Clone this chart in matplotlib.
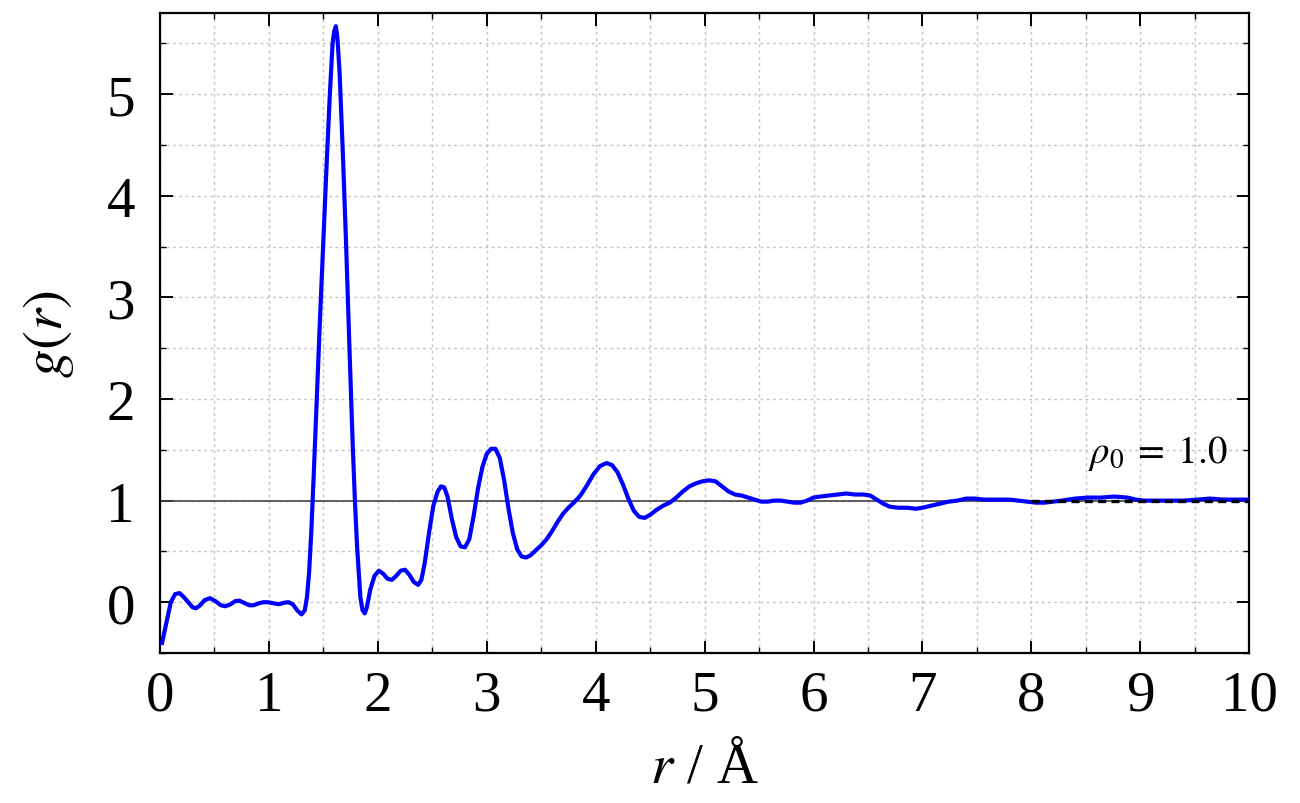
import numpy as np
from matplotlib import pyplot as plt
from matplotlib.ticker import MultipleLocator

# radial distribution function
r = [0.02, 0.06, 0.10, 0.14, 0.18, 0.22, 0.26, 0.30, 0.33, 0.37,
     0.41, 0.46, 0.51, 0.56, 0.60, 0.65, 0.69, 0.73, 0.78, 0.82,
     0.86, 0.91, 0.95, 0.99, 1.04, 1.09, 1.14, 1.18, 1.22, 1.26,
     1.30, 1.33, 1.35, 1.37, 1.39, 1.41, 1.44, 1.47, 1.50, 1.53,
     1.56, 1.585, 1.60, 1.615, 1.63, 1.65, 1.68, 1.71, 1.74, 1.77,
     1.79, 1.81, 1.84, 1.86, 1.88, 1.90, 1.93, 1.97, 2.01, 2.05,
     2.09, 2.13, 2.17, 2.21, 2.25, 2.29, 2.33, 2.37, 2.40, 2.43,
     2.47, 2.51, 2.55, 2.58, 2.61, 2.64, 2.68, 2.72, 2.76, 2.80, 2.84,
     2.88, 2.92, 2.96, 3.00, 3.04, 3.08, 3.12, 3.16, 3.20, 3.24,
     3.28, 3.32, 3.36, 3.40, 3.45, 3.50, 3.55, 3.60, 3.65, 3.70,
     3.75, 3.80, 3.86, 3.92, 3.98, 4.04, 4.10, 4.15, 4.20, 4.25,
     4.30, 4.35, 4.40, 4.45, 4.50, 4.56, 4.62, 4.68, 4.74, 4.80,
     4.86, 4.92, 4.98, 5.04, 5.10, 5.16, 5.22, 5.28, 5.34, 5.40,
     5.46, 5.52, 5.58, 5.64, 5.70, 5.76, 5.82, 5.88, 5.94, 6.00,
     6.06, 6.14, 6.22, 6.30, 6.38, 6.46, 6.52, 6.58, 6.64, 6.70,
     6.78, 6.86, 6.94, 7.00, 7.08, 7.16, 7.24, 7.32, 7.40, 7.48,
     7.56, 7.64, 7.72, 7.80, 7.88, 7.96, 8.04, 8.12, 8.20, 8.28,
     8.40, 8.52, 8.64, 8.76, 8.88, 8.96, 9.04, 9.16, 9.28, 9.40,
     9.52, 9.64, 9.76, 9.88, 10.00]
g = [-0.40, -0.20, 0.00, 0.08, 0.09, 0.05, 0.00, -0.05, -0.06, -0.03,
     0.02, 0.04, 0.01, -0.03, -0.04, -0.02, 0.01, 0.015, -0.01, -0.03,
     -0.03, -0.01, 0.00, 0.00, -0.01, -0.02, -0.005, 0.00, -0.02, -0.08,
     -0.12, -0.08, 0.05, 0.30, 0.70, 1.20, 2.00, 2.80, 3.55, 4.30,
     5.00, 5.50, 5.62, 5.67, 5.55, 5.20, 4.40, 3.50, 2.50, 1.55,
     1.00, 0.55, 0.05, -0.08, -0.11, -0.05, 0.12, 0.26, 0.31, 0.28,
     0.23, 0.22, 0.26, 0.31, 0.32, 0.27, 0.20, 0.17, 0.22, 0.38,
     0.68, 0.95, 1.09, 1.14, 1.13, 1.04, 0.82, 0.64, 0.55, 0.54, 0.62,
     0.85, 1.12, 1.33, 1.46, 1.51, 1.51, 1.42, 1.20, 0.92, 0.68,
     0.52, 0.45, 0.44, 0.46, 0.51, 0.56, 0.62, 0.70, 0.79, 0.87,
     0.93, 0.98, 1.05, 1.15, 1.26, 1.34, 1.37, 1.35, 1.28, 1.16,
     1.02, 0.90, 0.84, 0.83, 0.86, 0.91, 0.95, 0.98, 1.03, 1.09,
     1.14, 1.17, 1.19, 1.20, 1.19, 1.14, 1.09, 1.06, 1.05, 1.03,
     1.01, 0.99, 0.99, 1.00, 1.00, 0.99, 0.98, 0.98, 1.00, 1.03,
     1.04, 1.05, 1.06, 1.07, 1.06, 1.06, 1.05, 1.01, 0.97, 0.94,
     0.93, 0.93, 0.92, 0.93, 0.95, 0.97, 0.99, 1.00, 1.02, 1.02,
     1.01, 1.01, 1.01, 1.01, 1.00, 0.99, 0.98, 0.98, 0.99, 1.00,
     1.02, 1.03, 1.03, 1.04, 1.03, 1.01, 1.00, 1.00, 1.00, 1.00,
     1.01, 1.02, 1.01, 1.01, 1.01]

rho0 = 1.0
tail_r = [8.0, 10.0]
x_ticks = [0, 1, 2, 3, 4, 5, 6, 7, 8, 9, 10]
y_ticks = [0, 1, 2, 3, 4, 5]

plt.rcParams['font.family'] = ['Liberation Serif', 'DejaVu Serif']
plt.rcParams['mathtext.fontset'] = 'stix'

fig = plt.figure(figsize=(13, 8.04), dpi=100)
ax = fig.add_axes([0.123, 1 - 654 / 804, 0.838, 640 / 804])

ax.axhline(rho0, color='#444444', lw=1.2, zorder=1)
ax.plot(r, g, color='#0000ff', lw=3.0, zorder=3)
ax.plot(tail_r, [rho0, rho0], color='black', lw=2.4, ls=(0, (2.4, 1.6)), zorder=4)

ax.text(9.8, 1.47, r'$\rho_0\;=\;1.0$', fontsize=28, ha='right', va='center')

ax.set_xlim(0, 10)
ax.set_ylim(-0.5, 5.8)
ax.set_xticks(x_ticks)
ax.set_yticks(y_ticks)
ax.xaxis.set_minor_locator(MultipleLocator(0.5))
ax.yaxis.set_minor_locator(MultipleLocator(0.5))

ax.grid(True, which='both', color='#c4c4c4', ls=(0, (2, 2.5)), lw=1.0)
ax.set_axisbelow(True)

ax.tick_params(which='both', direction='in', top=True, right=True, labelsize=41)
ax.tick_params(which='major', length=9, width=1.4)
ax.tick_params(axis='x', which='major', pad=12)
ax.tick_params(axis='y', which='major', pad=18)
ax.tick_params(which='minor', length=4.5, width=1.0)
for s in ax.spines.values():
    s.set_linewidth(1.6)

ax.set_xlabel(r'$r$ / Å', fontsize=41, labelpad=14)
ax.set_ylabel(r'$g(r)$', fontsize=41, labelpad=22)

plt.savefig('out.png', dpi=100)
